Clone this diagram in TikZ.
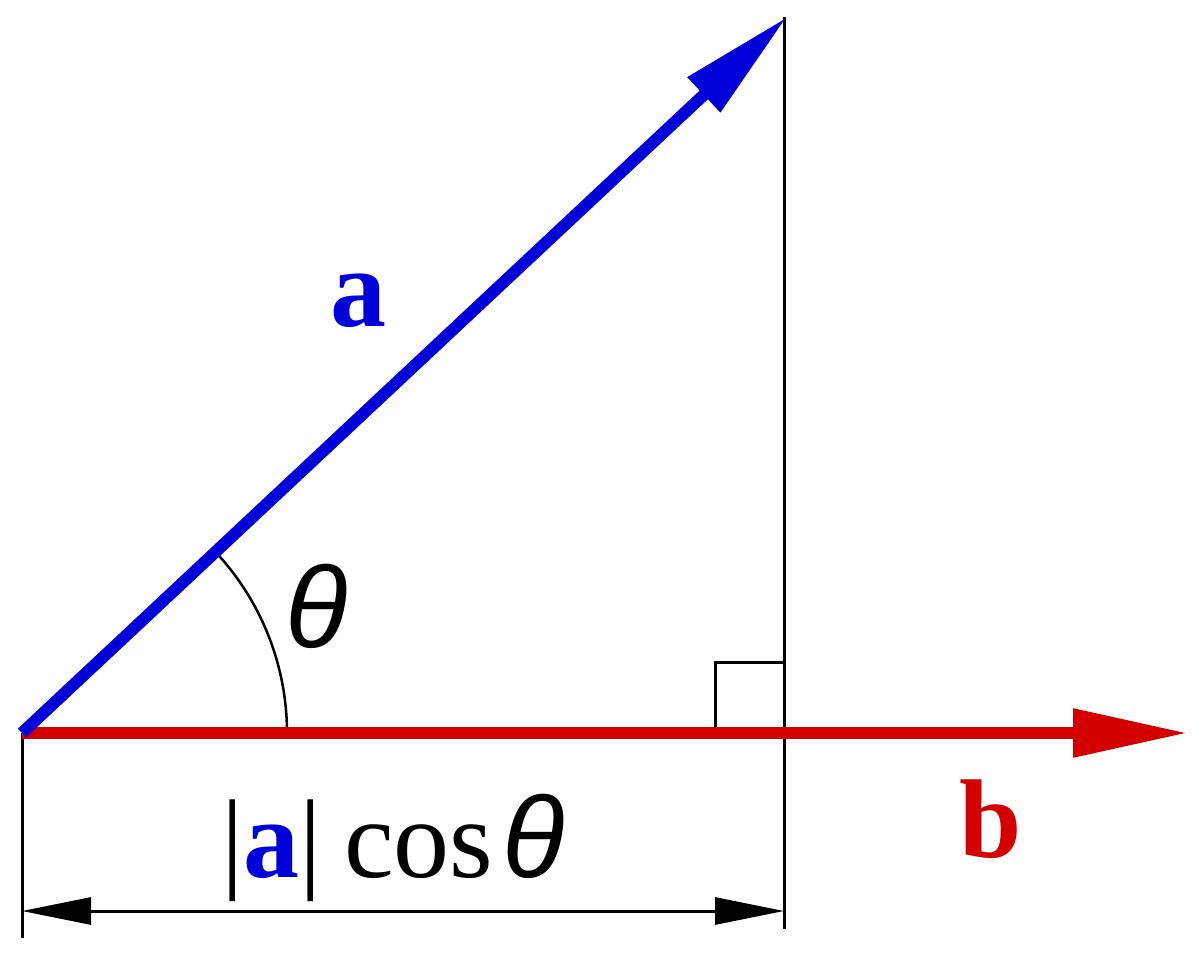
\documentclass[tikz,border=0pt]{standalone}
\usepackage{fontspec}
\setmainfont{Liberation Serif}
\newfontfamily\thetafont{Liberation Sans}
\usetikzlibrary{arrows.meta}
\definecolor{vecblue}{RGB}{0,0,217}
\definecolor{vecred}{RGB}{212,0,0}
\tikzset{
  vecline/.style={line width=12pt},
  thinline/.style={line width=3pt, black},
  dimline/.style={line width=3pt, black, {Triangle[length=69pt,width=27pt]}-{Triangle[length=69pt,width=27pt]}},
  lbl/.style={inner sep=0pt, anchor=base, font=\fontsize{112}{112}\selectfont},
}
\begin{document}
\begin{tikzpicture}[x=1pt,y=-1pt]
\useasboundingbox (0,0) rectangle (1200,953);
\coordinate (O) at (22,733);
\coordinate (A) at (787,17);
\coordinate (B) at (1188,733);
\coordinate (Ptop) at (784,17);
\coordinate (Pbot) at (784,929);
\coordinate (Obot) at (22,938);
\coordinate (DL) at (22,911);
\coordinate (DR) at (784,911);
\coordinate (SqA) at (715,733);
\coordinate (SqB) at (715,662);
\coordinate (SqC) at (784,662);
% projection lines
\draw[thinline] (Ptop) -- (Pbot);
\draw[thinline] (O) -- (Obot);
\draw[thinline] (SqA) -- (SqB) -- (SqC);
\draw[dimline] (DL) -- (DR);
% angle arc
\draw[line width=2.5pt] (287,733) arc[start angle=0, end angle=-43.1, radius=265];
% vectors
\draw[vecline, vecred, -{Triangle[length=115pt,width=46pt]}] (O) -- (B);
\draw[vecline, vecblue, -{Triangle[length=114pt,width=45pt]}] (O) -- (A);
% labels
\node[lbl, text=vecblue] (la) at (358,326) {\bfseries a};
\node[lbl, text=vecred] (lb) at (991,857) {\bfseries b};
\node[lbl] (lt) at (317,647) {\fontsize{115}{115}\thetafont\itshape θ};
\node[lbl] (lp) at (393,877) {|\textcolor{vecblue}{\bfseries a}|\kern 0.2em cos\kern0.08em{\fontsize{115}{115}\thetafont\itshape θ}};
\end{tikzpicture}
\end{document}
